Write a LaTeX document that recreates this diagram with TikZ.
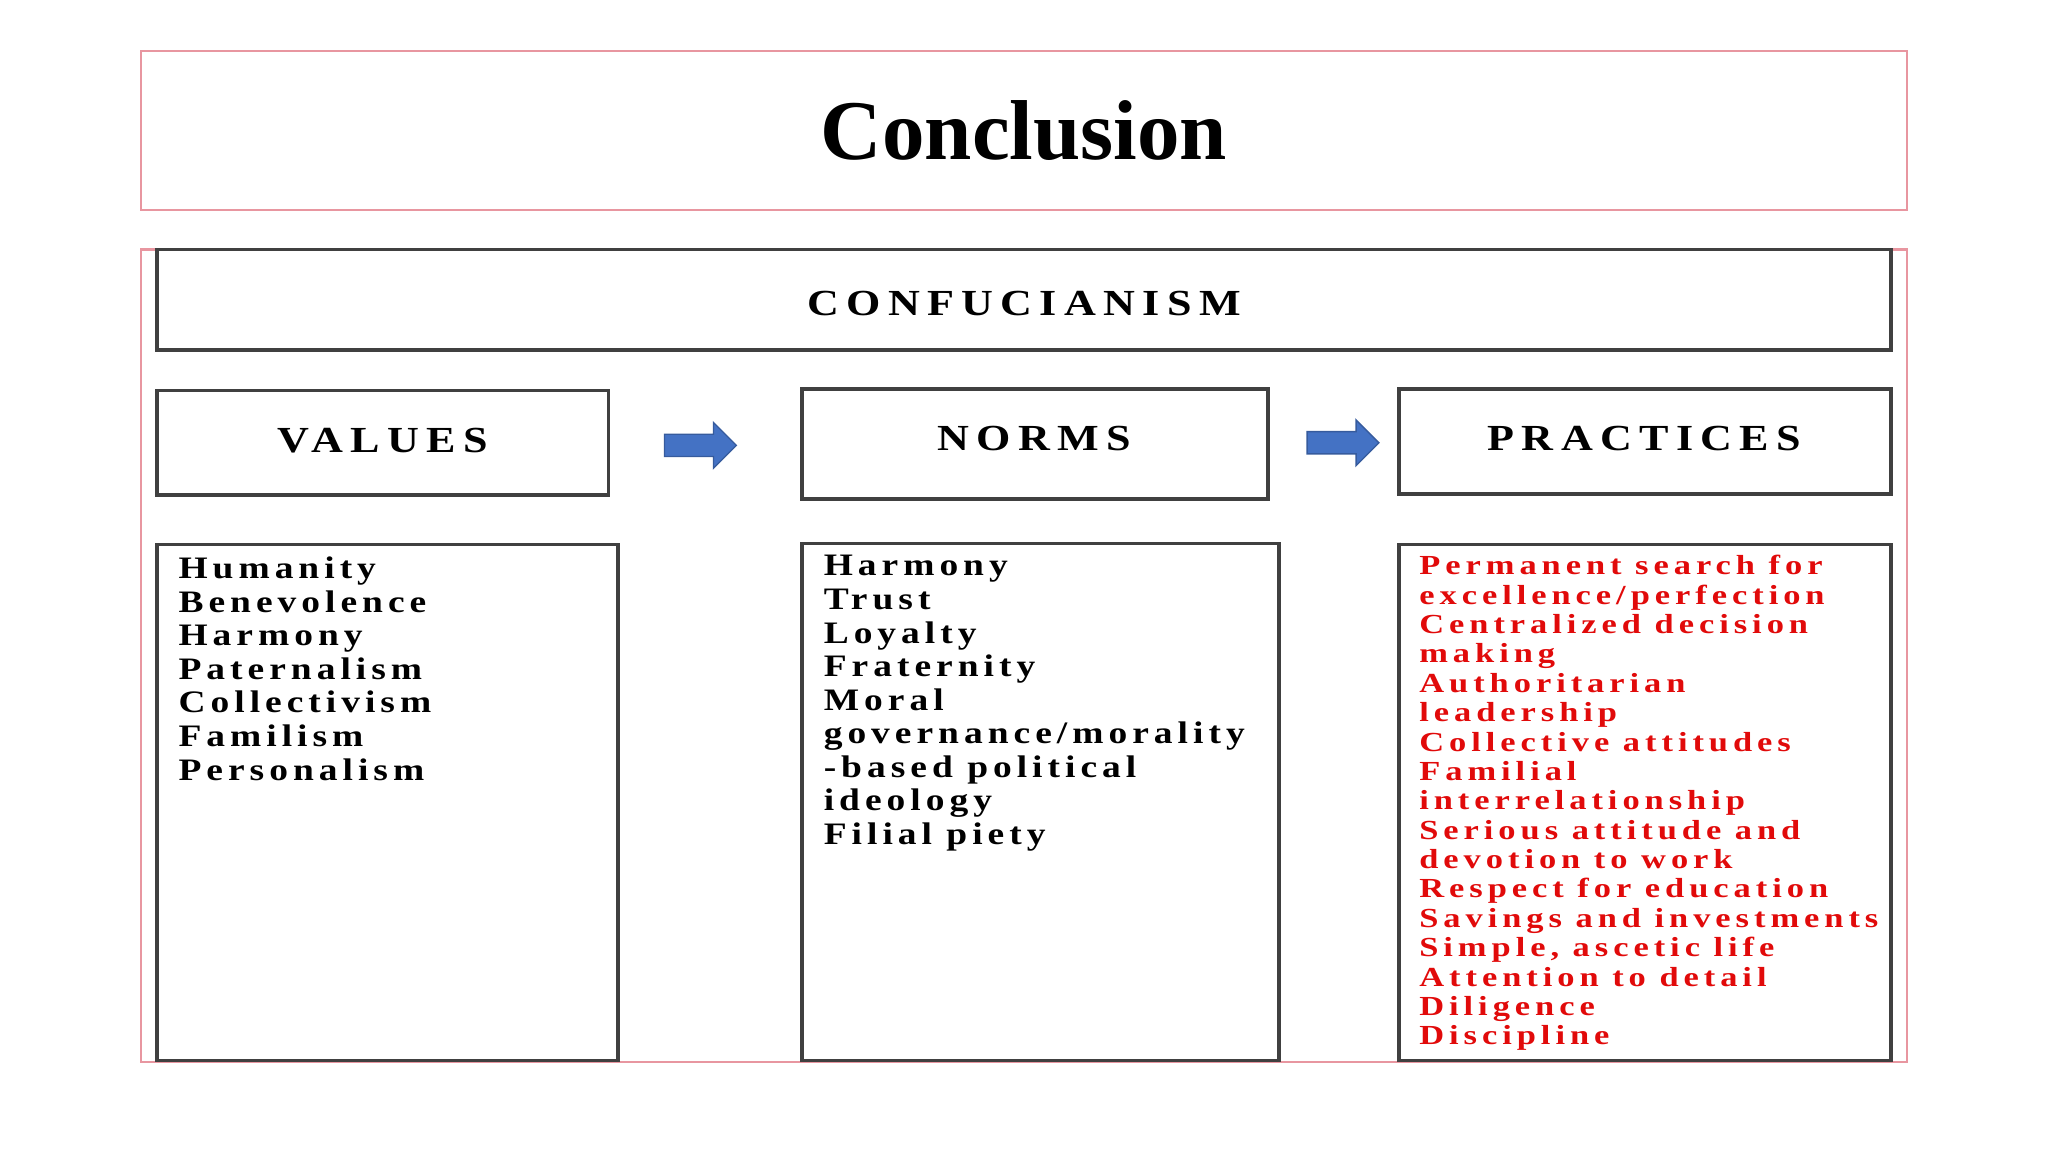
\documentclass[tikz,border=0pt]{standalone}
\usepackage{fontspec}
\setmainfont{Liberation Serif}
\usetikzlibrary{shapes.arrows}
\definecolor{pinkb}{RGB}{232,150,160}
\definecolor{arrb}{RGB}{68,114,196}
\definecolor{redt}{RGB}{225,10,10}
\tikzset{
 framebox/.style={draw=black!75,line width=0.8pt},
 pinkbox/.style={draw=pinkb,line width=0.5pt},
 head/.style={font=\fontsize{8pt}{9pt}\selectfont\bfseries\addfontfeature{LetterSpace=20,FakeStretch=1.2}},
 item/.style={anchor=base west,inner sep=0,font=\fontsize{6.8pt}{7pt}\selectfont\bfseries\addfontfeature{LetterSpace=16,FakeStretch=1.2}},
 ritem/.style={item,text=redt,font=\fontsize{6pt}{6pt}\selectfont\bfseries\addfontfeature{LetterSpace=18,FakeStretch=1.25}},
 bluearrow/.style={single arrow,fill=arrb,draw=arrb!80!black,line width=0.3pt,minimum height=0.55cm,minimum width=0.34cm,single arrow head extend=0.09cm,inner xsep=0,inner ysep=0.08cm,text width=0}
}
\begin{document}
\begin{tikzpicture}[x=0.01cm,y=-0.01cm]
\useasboundingbox (0,0) rectangle (1568,882);
\draw[pinkbox] (108,39) rectangle (1460,161);
\node (title) at (784,100) {\fontsize{18.5pt}{20pt}\selectfont\bfseries Conclusion};
\draw[pinkbox] (108,191) rectangle (1460,813);
\draw[framebox] (120,191) rectangle (1448,268);
\node[head] (conf) at (784,232) {CONFUCIANISM};
\draw[framebox] (120,299) rectangle (466,379);
\node[head] (val) at (293,337) {VALUES};
\draw[framebox] (614,298) rectangle (971,382);
\node[head] (nor) at (792,336) {NORMS};
\draw[framebox] (1071,298) rectangle (1448,378);
\node[head] (pra) at (1259,336) {PRACTICES};
\node[bluearrow] (a1) at (532,341) {};
\node[bluearrow] (a2) at (1024,339) {};
\draw[framebox] (120,417) rectangle (473,812);
\draw[framebox] (614,416) rectangle (979,812);
\draw[framebox] (1071,417) rectangle (1448,812);
\foreach \t [count=\i] in {Humanity,Benevolence,Harmony,Paternalism,Collectivism,Familism,Personalism}
  \node[item] (v\i) at (136,443+25.7*\i-25.7) {\t};
\foreach \t [count=\i] in {Harmony,Trust,Loyalty,Fraternity,Moral,governance/morality,-based political,ideology,Filial piety}
  \node[item] (n\i) at (630,441+25.7*\i-25.7) {\t};
\foreach \t [count=\i] in {Permanent search for,excellence/perfection,Centralized decision,making,Authoritarian,leadership,Collective attitudes,Familial,interrelationship,Serious attitude and,devotion to work,Respect for education,Savings and investments,{Simple, ascetic life},Attention to detail,Diligence,Discipline}
  \node[ritem] (p\i) at (1086,440+22.5*\i-22.5) {\t};
\end{tikzpicture}
\end{document}
